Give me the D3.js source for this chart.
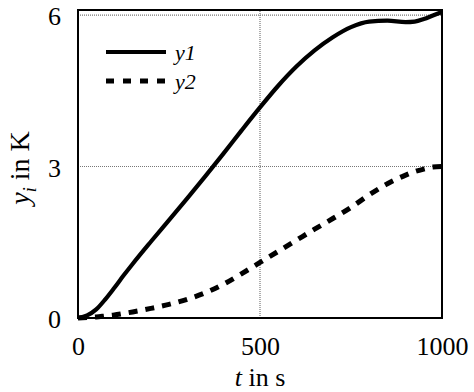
<!DOCTYPE html>
<html><head><meta charset="utf-8"><script src="https://cdn.jsdelivr.net/npm/d3@7"></script></head>
<body style="margin:0">
<svg id="chart" width="474" height="392"></svg>
<script>
const tValues = [0, 25, 50, 75, 100, 125, 150, 200, 250, 300, 350, 400, 450, 500, 550, 600, 650, 700, 750, 800, 850, 900, 925, 950, 975, 1000];
const y1Values = [0, 0.05, 0.17, 0.37, 0.6, 0.84, 1.07, 1.51, 1.94, 2.37, 2.81, 3.26, 3.72, 4.17, 4.6, 4.98, 5.3, 5.56, 5.76, 5.87, 5.89, 5.86, 5.87, 5.92, 5.99, 6.06];
const y2Values = [0, 0.01, 0.02, 0.04, 0.06, 0.09, 0.12, 0.19, 0.27, 0.37, 0.5, 0.67, 0.88, 1.1, 1.32, 1.54, 1.76, 1.97, 2.19, 2.44, 2.66, 2.83, 2.9, 2.95, 2.99, 3.0];
const xTicks = [0, 500, 1000];
const yTicks = [0, 3, 6];
const seriesNames = ["y1", "y2"];

const FONT = "Liberation Serif";

const svg = d3.select("#chart");
const x = d3.scaleLinear().domain([0, 1000]).range([78, 442]);
const y = d3.scaleLinear().domain([0, 6.1]).range([318, 10]);

// grid
const grid = svg.append("g");
grid.selectAll("line.gx").data(xTicks.filter(d => d > 0 && d < 1000)).enter().append("line")
  .attr("x1", d => x(d)).attr("x2", d => x(d)).attr("y1", y(0)).attr("y2", y(6.1))
  .attr("stroke", "#777").attr("stroke-width", 1.2).attr("stroke-dasharray", "1,1");
grid.selectAll("line.gy").data(yTicks.filter(d => d > 0)).enter().append("line")
  .attr("x1", x(0)).attr("x2", x(1000)).attr("y1", d => y(d)).attr("y2", d => y(d))
  .attr("stroke", "#777").attr("stroke-width", 1.2).attr("stroke-dasharray", "1,1");

// axes (labels only)
const xAxis = d3.axisBottom(x).tickValues(xTicks).tickSize(0).tickPadding(0).tickFormat(d3.format("d"));
const gx = svg.append("g").attr("transform", `translate(0,${y(0)})`).call(xAxis);
gx.select(".domain").remove();
gx.selectAll("text").attr("dy", null).attr("y", 37).attr("fill", "#000")
  .attr("font-family", FONT).attr("font-size", 26);

const yAxis = d3.axisLeft(y).tickValues(yTicks).tickSize(0).tickPadding(0).tickFormat(d3.format("d"));
const gy = svg.append("g").attr("transform", `translate(61,0)`).call(yAxis);
gy.select(".domain").remove();
gy.selectAll("text").attr("x", 0).attr("dy", "0.32em").attr("fill", "#000")
  .attr("font-family", FONT).attr("font-size", 26);
gy.selectAll(".tick").attr("transform", d => `translate(0,${y(d) + 2})`);

// lines
const data1 = tValues.map((t, i) => [t, y1Values[i]]);
const data2 = tValues.map((t, i) => [t, y2Values[i]]);
const line = d3.line().x(d => x(d[0])).y(d => y(d[1])).curve(d3.curveMonotoneX);

svg.append("path").datum(data2).attr("d", line).attr("fill", "none")
  .attr("stroke", "#000").attr("stroke-width", 5).attr("stroke-dasharray", "9,8");
svg.append("path").datum(data1).attr("d", line).attr("fill", "none")
  .attr("stroke", "#000").attr("stroke-width", 4.2);

// frame
svg.append("rect").attr("x", x(0)).attr("y", y(6.1)).attr("width", x(1000) - x(0)).attr("height", y(0) - y(6.1))
  .attr("fill", "none").attr("stroke", "#000").attr("stroke-width", 2);

// legend
const legY = [52, 81];
seriesNames.forEach((name, i) => {
  svg.append("line").attr("x1", 106).attr("x2", 166).attr("y1", legY[i]).attr("y2", legY[i])
    .attr("stroke", "#000").attr("stroke-width", i === 0 ? 4 : 5)
    .attr("stroke-dasharray", i === 0 ? null : "8,9");
  svg.append("text").attr("x", 175).attr("y", legY[i] + 8)
    .attr("font-family", FONT).attr("font-size", 22)
    .attr("font-style", "italic").text(name);
});

// axis titles
const xt = svg.append("text").attr("x", 260).attr("y", 386).attr("text-anchor", "middle")
  .attr("font-family", FONT).attr("font-size", 26);
xt.append("tspan").attr("font-style", "italic").text("t");
xt.append("tspan").text(" in s");

const yt = svg.append("text").attr("transform", "translate(29,168) rotate(-90)").attr("text-anchor", "middle")
  .attr("font-family", FONT).attr("font-size", 28);
yt.append("tspan").attr("font-style", "italic").text("y");
yt.append("tspan").attr("font-style", "italic").attr("font-size", 18).attr("dy", 7).text("i");
yt.append("tspan").attr("dy", -7).text(" in K");
</script>
</body></html>
